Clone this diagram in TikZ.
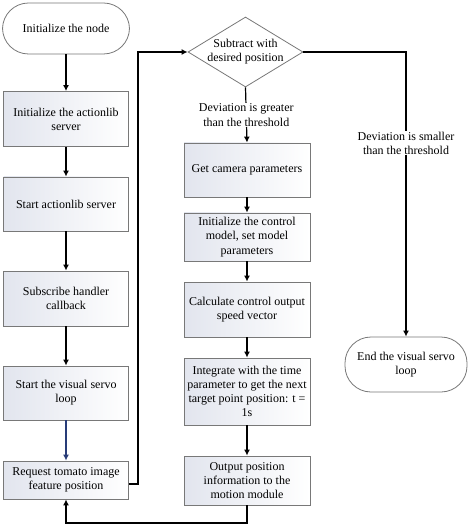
\documentclass[tikz,border=0pt]{standalone}
\usepackage{fontspec}
\setmainfont{Liberation Serif}
\usetikzlibrary{arrows.meta,shapes.geometric}
\definecolor{boxfill}{RGB}{226,229,238}
\definecolor{edgegray}{RGB}{120,120,120}
\definecolor{navyline}{RGB}{40,60,120}
\tikzset{
  txt/.style={font=\fontsize{12}{14.2}\selectfont, align=center},
  procbox/.style={txt, draw=edgegray, line width=0.8pt, left color=boxfill, right color=white, minimum width=125pt, inner sep=1pt},
  termbox/.style={txt, draw=edgegray, line width=0.8pt, fill=white, rounded corners=26pt, inner sep=1pt},
  decbox/.style={diamond, draw=edgegray, line width=0.8pt, fill=white, minimum width=115pt, minimum height=70pt, inner sep=0pt},
  flow/.style={line width=1.2pt, -{Latex[length=6pt,width=6pt]}},
  lab/.style={txt, fill=white, inner sep=1pt}
}
\begin{document}
\begin{tikzpicture}[x=1pt,y=-1pt]
\useasboundingbox (0,0) rectangle (474,526);
% left column
\node[termbox, minimum width=127pt, minimum height=51pt] (n1) at (66,28.5) {Initialize the node};
\node[procbox, minimum height=55pt] (n2) at (66,119) {Initialize the actionlib\\server};
\node[procbox, minimum height=54pt] (n3) at (66,204) {Start actionlib server};
\node[procbox, minimum height=55pt] (n4) at (66,298.5) {Subscribe handler\\callback};
\node[procbox, minimum height=54pt] (n5) at (66,393) {Start the visual servo\\loop};
\node[procbox, minimum height=38pt] (n6) at (66,480) {Request tomato image\\feature position};
% decision
\node[decbox] (dia) at (245.5,52) {};
\node[txt] (diat) at (dia.center) {Subtract with\\desired position};
% middle column
\node[procbox, minimum width=126pt, minimum height=54pt] (c1) at (247,170) {Get camera parameters};
\node[procbox, minimum width=126pt, minimum height=48pt] (c2) at (247,237) {Initialize the control\\model, set model\\parameters};
\node[procbox, minimum width=126pt, minimum height=55pt] (c3) at (247,309.5) {Calculate control output\\speed vector};
\node[procbox, minimum width=126pt, minimum height=67pt] (c4) at (247,391.5) {Integrate with the time\\parameter to get the next\\target point position: t =\\1s};
\node[procbox, minimum width=126pt, minimum height=49pt] (c5) at (247,480.5) {Output position\\information to the\\motion module};
% end
\node[termbox, minimum width=122pt, minimum height=55pt] (endt) at (406,364.5) {End the visual servo\\loop};
% corner coordinates
\coordinate (lp1) at (138,484);
\coordinate (lp2) at (138,52);
\coordinate (rt1) at (406,52);
\coordinate (bt1) at (247,523);
\coordinate (bt2) at (66,523);
\coordinate (n6e) at (n6.east |- lp1);
% connectors
\draw[flow] (n1) -- (n2);
\draw[flow] (n2) -- (n3);
\draw[flow] (n3) -- (n4);
\draw[flow] (n4) -- (n5);
\draw[flow, navyline] (n5) -- (n6);
\draw[flow] (n6e) -- (lp1) -- (lp2) -- (dia.west);
\draw[flow] (dia.south) -- (c1.north) node[lab, pos=0.5] (lg) {Deviation is greater\\than the threshold};
\draw[flow] (c1) -- (c2);
\draw[flow] (c2) -- (c3);
\draw[flow] (c3) -- (c4);
\draw[flow] (c4) -- (c5);
\draw[flow] (c5.south) -- (bt1) -- (bt2) -- (n6.south);
\draw[flow] (dia.east) -- (rt1) -- (endt.north);
\node[lab] (ls) at (406,143) {Deviation is smaller\\than the threshold};
\end{tikzpicture}
\end{document}
